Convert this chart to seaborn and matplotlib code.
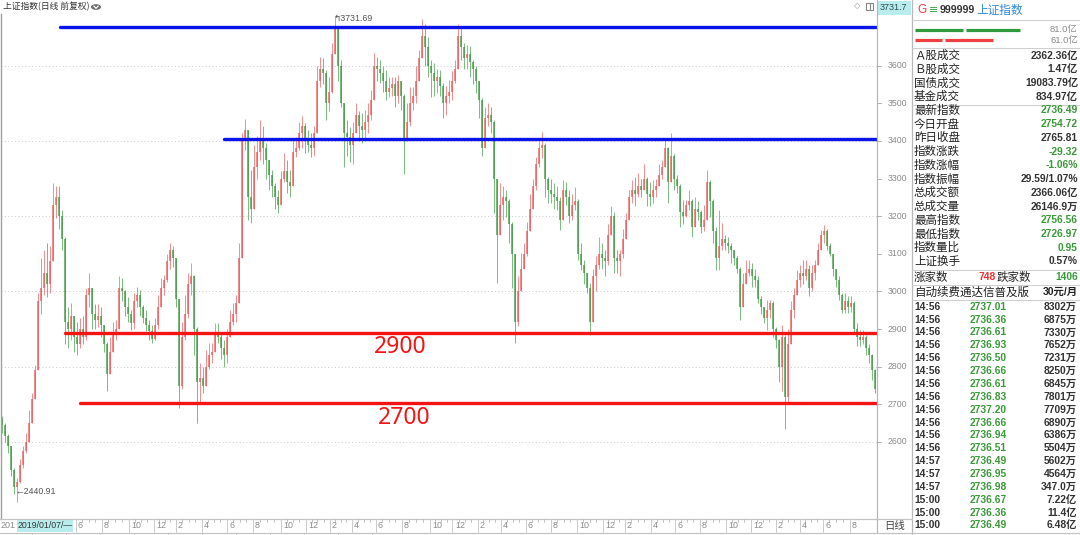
import numpy as np
import pandas as pd
import matplotlib
matplotlib.use("Agg")
import matplotlib.pyplot as plt
import seaborn as sns
from matplotlib.patches import Rectangle, Circle
from matplotlib.lines import Line2D

# ---------------- data (weekly-like candles) ----------------
close = [2645, 2615, 2590, 2525, 2480, 2495, 2540, 2575, 2600, 2650,
         2715, 2790, 2975, 3010, 3050, 3020, 3080, 3230, 3250, 3200,
         3140, 2920, 2900, 2935, 2880, 2860, 2900, 2880, 2990, 3010,
         2940, 2925, 2935, 2910, 2860, 2780, 2840, 2890, 2900, 3010,
         3000, 2960, 2940, 2915, 2975, 2990, 2960, 2930, 2910, 2895,
         2875, 2910, 2960, 3010, 3030, 3080, 3110, 3090, 2980, 2750,
         2880, 2940, 3020, 3040, 2900, 2760, 2770, 2750, 2800, 2830,
         2840, 2890, 2880, 2850, 2830, 2880, 2920, 2940, 2970, 3090,
         3400, 3430, 3250, 3220, 3330, 3370, 3400, 3380, 3350, 3310,
         3280, 3250, 3230, 3300, 3320, 3290, 3280, 3370, 3380, 3420,
         3440, 3400, 3390, 3380, 3420, 3560, 3590, 3580, 3500, 3530,
         3630, 3700, 3600, 3500, 3420, 3410, 3390, 3420, 3470, 3440,
         3430, 3450, 3470, 3510, 3600, 3590, 3580, 3560, 3530, 3540,
         3550, 3520, 3560, 3520, 3400, 3450, 3500, 3520, 3560, 3620,
         3680, 3650, 3600, 3580, 3560, 3570, 3545, 3500, 3520, 3530,
         3560, 3590, 3680, 3650, 3620, 3630, 3610, 3590, 3560, 3510,
         3380, 3460, 3470, 3450, 3300, 3150, 3230, 3250, 3240, 3180,
         3100, 2920, 3000, 3060, 3100, 3160, 3220, 3280, 3340, 3380,
         3390, 3300, 3270, 3260, 3250, 3240, 3190, 3270, 3250, 3200,
         3230, 3240, 3100, 3070, 3050, 3010, 2920, 3040, 3070, 3100,
         3090, 3080, 3150, 3200, 3090, 3080, 3100, 3140, 3190, 3250,
         3270, 3260, 3280, 3270, 3300, 3260, 3250, 3270, 3280, 3310,
         3330, 3380, 3290, 3360, 3300, 3280, 3210, 3200, 3230, 3240,
         3170, 3220, 3210, 3170, 3190, 3290, 3240, 3160, 3090, 3120,
         3140, 3130, 3120, 3110, 3090, 3060, 2960, 3020, 3050, 3060,
         3040, 3030, 2980, 2960, 2930, 2950, 2970, 2900, 2870, 2800,
         2880, 2720, 2860, 2950, 2990, 3030, 3050, 3040, 3060, 3010,
         3050, 3070, 3110, 3150, 3160, 3120, 3100, 3060, 3030, 2990,
         2950, 2975, 2960, 2970, 2900, 2880, 2870, 2880, 2850, 2830,
         2790, 2740]
high = [2668, 2650, 2622, 2575, 2530, 2505, 2555, 2590, 2623, 2685,
        2730, 2805, 2995, 3090, 3110, 3128, 3120, 3287, 3280, 3280,
        3217, 3145, 2960, 2970, 2935, 2920, 2930, 2935, 3010, 3048,
        3010, 2968, 2968, 2960, 2910, 2865, 2880, 2920, 2925, 3040,
        3035, 3004, 2985, 2950, 2995, 3013, 3004, 2965, 2950, 2925,
        2910, 2930, 2990, 3035, 3045, 3100, 3128, 3120, 3090, 2980,
        2920, 2990, 3050, 3075, 3045, 2905, 2810, 2800, 2845, 2862,
        2862, 2916, 2916, 2890, 2871, 2900, 2951, 2970, 2990, 3128,
        3420, 3458, 3430, 3323, 3390, 3412, 3456, 3440, 3394, 3350,
        3323, 3287, 3270, 3320, 3367, 3350, 3323, 3403, 3410, 3450,
        3465, 3447, 3430, 3420, 3440, 3598, 3624, 3620, 3588, 3570,
        3660, 3732, 3700, 3615, 3500, 3456, 3438, 3450, 3500, 3480,
        3474, 3482, 3500, 3535, 3633, 3624, 3615, 3600, 3588, 3570,
        3570, 3570, 3575, 3560, 3525, 3500, 3544, 3544, 3600, 3642,
        3723, 3710, 3677, 3615, 3606, 3590, 3588, 3553, 3545, 3562,
        3585, 3615, 3712, 3700, 3660, 3655, 3651, 3615, 3598, 3560,
        3515, 3490, 3500, 3491, 3455, 3300, 3287, 3280, 3270, 3245,
        3185, 3100, 3040, 3102, 3130, 3185, 3260, 3300, 3358, 3400,
        3424, 3395, 3305, 3300, 3287, 3280, 3252, 3296, 3290, 3270,
        3260, 3278, 3246, 3128, 3084, 3050, 3022, 3060, 3093, 3146,
        3130, 3110, 3180, 3226, 3210, 3110, 3110, 3165, 3208, 3270,
        3296, 3305, 3314, 3300, 3340, 3305, 3290, 3296, 3300, 3340,
        3350, 3402, 3385, 3420, 3365, 3310, 3285, 3243, 3243, 3270,
        3245, 3252, 3240, 3217, 3230, 3323, 3295, 3245, 3172, 3217,
        3181, 3150, 3146, 3128, 3110, 3093, 3065, 3049, 3084, 3084,
        3075, 3060, 3040, 2987, 2960, 2978, 2978, 2975, 2905, 2875,
        2910, 2885, 2900, 2975, 3010, 3058, 3070, 3084, 3084, 3070,
        3070, 3084, 3128, 3164, 3177, 3165, 3128, 3100, 3060, 3040,
        2995, 2995, 2987, 2987, 2975, 2916, 2898, 2898, 2885, 2860,
        2835, 2795]
low = [2625, 2600, 2570, 2510, 2462, 2441, 2490, 2530, 2570, 2615,
       2660, 2740, 2830, 2940, 2990, 2985, 2995, 3150, 3195, 3165,
       3110, 2860, 2850, 2870, 2840, 2830, 2850, 2860, 2870, 2960,
       2900, 2900, 2905, 2880, 2840, 2735, 2790, 2860, 2870, 2920,
       2975, 2935, 2920, 2898, 2900, 2960, 2935, 2915, 2895, 2870,
       2862, 2870, 2900, 2960, 2990, 3025, 3060, 3065, 2960, 2690,
       2740, 2870, 2930, 2990, 2830, 2650, 2700, 2730, 2770, 2795,
       2810, 2840, 2862, 2820, 2800, 2810, 2890, 2910, 2920, 2980,
       3146, 3376, 3190, 3181, 3290, 3300, 3350, 3340, 3300, 3270,
       3252, 3220, 3208, 3230, 3290, 3261, 3252, 3300, 3358, 3376,
       3380, 3367, 3370, 3358, 3360, 3465, 3544, 3550, 3456, 3480,
       3527, 3640, 3560, 3491, 3330, 3360, 3345, 3340, 3440, 3400,
       3394, 3400, 3420, 3456, 3560, 3560, 3553, 3530, 3509, 3518,
       3520, 3491, 3500, 3482, 3312, 3400, 3440, 3482, 3500, 3560,
       3640, 3600, 3570, 3518, 3520, 3527, 3520, 3460, 3470, 3500,
       3510, 3553, 3600, 3615, 3590, 3590, 3570, 3550, 3527, 3460,
       3360, 3429, 3440, 3420, 3208, 3023, 3181, 3190, 3199, 3128,
       3010, 2863, 2907, 3000, 3060, 3093, 3181, 3230, 3270, 3330,
       3355, 3252, 3234, 3234, 3220, 3217, 3164, 3190, 3230, 3181,
       3190, 3217, 3084, 3058, 3020, 2995, 2885, 2940, 3000, 3060,
       3060, 3040, 3070, 3164, 3049, 3049, 3040, 3090, 3146, 3190,
       3234, 3226, 3252, 3250, 3270, 3226, 3226, 3234, 3250, 3287,
       3300, 3350, 3234, 3300, 3270, 3261, 3172, 3180, 3199, 3217,
       3146, 3181, 3190, 3155, 3160, 3252, 3199, 3128, 3058, 3058,
       3110, 3110, 3102, 3075, 3070, 3049, 2925, 2995, 3031, 3040,
       3013, 3013, 2969, 2940, 2916, 2898, 2930, 2880, 2850, 2760,
       2735, 2635, 2700, 2860, 2930, 3004, 3013, 3020, 3030, 2987,
       3000, 3030, 3075, 3120, 3130, 3110, 3093, 3040, 3013, 2978,
       2942, 2942, 2942, 2945, 2889, 2854, 2854, 2860, 2830, 2810,
       2765, 2730]
first_open = 2660

blue_levels = [3704, 3404]
red_levels = [2890, 2704]
red_level_labels = ["2900", "2700"]
price_labels = [3600, 3500, 3400, 3300, 3200, 3100, 3000, 2900, 2800, 2700, 2600]
grid_levels = [3600, 3400, 3200, 3000, 2800, 2600]
high_label = "3731.69"
low_label = "2440.91"
month_labels = ["6", "8", "10", "12", "2", "4", "6", "8", "10", "12", "2", "4",
                "6", "8", "10", "12", "2", "4", "6", "8", "10", "12", "2", "4",
                "6", "8", "10", "12", "2", "4", "6", "8"]

panel_top = [("Ａ股成交", "2362.36亿"), ("Ｂ股成交", "1.47亿"),
             ("国债成交", "19083.79亿"), ("基金成交", "834.97亿")]
panel_mid = [("最新指数", "2736.49", "g"), ("今日开盘", "2754.72", "g"),
             ("昨日收盘", "2765.81", "k"), ("指数涨跌", "-29.32", "g"),
             ("指数涨幅", "-1.06%", "g"), ("指数振幅", "29.59/1.07%", "k"),
             ("总成交额", "2366.06亿", "k"), ("总成交量", "26146.9万", "k"),
             ("最高指数", "2756.56", "g"), ("最低指数", "2726.97", "g"),
             ("指数量比", "0.95", "g"), ("上证换手", "0.57%", "k")]
tick_time = ["14:56"] * 12 + ["14:57"] * 3 + ["15:00"] * 3
tick_price = ["2737.01", "2736.36", "2736.61", "2736.93", "2736.50", "2736.66",
              "2736.61", "2736.83", "2737.20", "2736.66", "2736.94", "2736.51",
              "2736.49", "2736.95", "2736.98", "2736.67", "2736.36", "2736.49"]
tick_vol = ["8302万", "6875万", "7330万", "7652万", "7231万", "8250万",
            "6845万", "7801万", "7709万", "6890万", "6386万", "5504万",
            "5602万", "4564万", "347.0万", "7.22亿", "11.4亿", "6.48亿"]

# ---------------- style ----------------
sns.set_theme(style="white")
CJK = ["Noto Sans CJK SC", "DejaVu Sans"]
NUM = ["Liberation Sans", "Noto Sans CJK SC", "DejaVu Sans"]
plt.rcParams["font.family"] = CJK

W, H = 1080, 535
fig = plt.figure(figsize=(W / 100, H / 100), dpi=100)
fig.patch.set_facecolor("white")


def fx(x):
    return x / W


def fy(y):
    return 1 - y / H


def fline(xs, ys, color="#c8c8c8", lw=0.75, **kw):
    fig.add_artist(Line2D([fx(v) for v in xs], [fy(v) for v in ys],
                          transform=fig.transFigure, color=color, lw=lw, **kw))


def T(x, y, s, size=8, color="#222222", ha="left", va="center",
      weight="normal", family=None):
    fig.text(fx(x), fy(y), s, fontsize=size, color=color, ha=ha, va=va,
             fontweight=weight, family=family or CJK)


# ---------------- main candle chart ----------------
ax = fig.add_axes([fx(1), fy(519), fx(877) - fx(1), fy(14) - fy(519)])
ax.set_facecolor("white")
n = len(close)
df = pd.DataFrame({"close": close, "high": high, "low": low})
df["open"] = [first_open] + close[:-1]
df["idx"] = np.arange(n)
df["hi"] = df[["high", "open", "close"]].max(axis=1)
df["lo"] = df[["low", "open", "close"]].min(axis=1)
up = df["close"] >= df["open"]
RED, GREEN = "#f05656", "#3a9a3e"
cols = np.where(up, RED, GREEN)
ax.vlines(df["idx"], df["lo"], df["hi"], colors=cols, lw=0.55, alpha=0.85)
b0 = np.minimum(df["open"], df["close"])
b1 = np.maximum(df["open"], df["close"])
b1 = np.maximum(b1, b0 + 4)
ax.vlines(df["idx"], b0, b1, colors=cols, lw=1.25, alpha=0.8)

for g in grid_levels:
    ax.axhline(g, color="#c9c9c9", lw=0.7, ls=(0, (1, 2.5)), zorder=0)


def px2i(px):
    return (px - 1.5) / 3.0


xmax = px2i(877)
for lv, start in zip(blue_levels, [60, 224]):
    sns.lineplot(x=[px2i(start), xmax], y=[lv, lv], ax=ax, color="#0a14e6",
                 lw=2.4, legend=False)
for lv, start in zip(red_levels, [65, 80]):
    sns.lineplot(x=[px2i(start), xmax], y=[lv, lv], ax=ax, color="#f41414",
                 lw=2.4, legend=False)
for lab, xc, yc in zip(red_level_labels, [400, 404], [347, 418]):
    T(xc, yc, lab, size=16.5, color="#f41414", ha="center",
      family=["Noto Sans", "DejaVu Sans"])

ax.set_xlim(px2i(1), xmax)
ax.set_ylim(2395.4, 3737.3)
ax.set_xticks([])
ax.set_yticks([])
for s in ["top", "bottom", "right"]:
    ax.spines[s].set_visible(False)
ax.spines["left"].set_color("#a0a0a0")
ax.spines["left"].set_linewidth(1.0)

T(334, 18, "↰" + high_label, size=6.3, color="#555555", family=NUM)
T(15, 492, "←" + low_label, size=6.3, color="#555555", family=NUM)

# title
T(3, 7, "上证指数(日线 前复权)", size=6.3, color="#333333")
fig.add_artist(Circle((fx(96), fy(7)), 4.3 / W, transform=fig.transFigure,
                      color="#6f6f6f"))
fline([93.8, 96, 98.2], [6, 8.3, 6], color="white", lw=0.9)
T(857, 6, "◇", size=6, color="#888888", ha="center", family=["DejaVu Sans"])
fig.add_artist(Rectangle((fx(866), fy(10)), 7 / W, 7 / H, transform=fig.transFigure,
                         fc="white", ec="#888888", lw=0.8))
fline([870, 870], [4, 10], color="#888888", lw=0.8)

# ---------------- price axis column ----------------
fline([877, 877], [0, 532], color="#b8b8b8", lw=0.9)
fline([912, 912], [0, 535], color="#b8b8b8", lw=0.9)
for p in price_labels:
    yy = 14 + (3737.3 - p) * 0.376328
    fline([877, 881], [yy, yy], color="#b0b0b0", lw=0.7)
    T(907, yy, str(p), size=6.3, color="#8a8a8a", ha="right", family=NUM)
fig.add_artist(Rectangle((fx(877.5), fy(15)), 33 / W, 14 / H, transform=fig.transFigure,
                         fc="#b9eded", ec="none"))
T(893.5, 8, "3731.7", size=6.5, color="#2c4a55", ha="center", family=NUM)

# ---------------- date strip ----------------
fline([0, 912], [519, 519], color="#c4c4c4", lw=0.9)
fline([0, 1080], [532.5, 532.5], color="#c4c4c4", lw=0.9)
month_px = [78, 104, 131, 156, 178, 204, 229, 255, 283, 308, 332, 354, 378, 404,
            432, 455, 480, 503, 528, 553, 579, 605, 627, 653, 677, 702, 728, 753,
            778, 802, 825, 852]
for lab, mx in zip(month_labels, month_px):
    fline([mx - 2.5, mx - 2.5], [519, 532], color="#cccccc", lw=0.7)
    T(mx, 526, lab, size=6.4, color="#8a8a8a", family=NUM)
for a, b in zip(month_px[:-1], month_px[1:]):
    for f in (0.25, 0.5, 0.75):
        xm = a - 2.5 + (b - a) * f
        fline([xm, xm], [519, 521.5], color="#b8b8b8", lw=0.6)
T(1, 526, "201", size=6.4, color="#8a8a8a", family=NUM)
fig.add_artist(Rectangle((fx(16.5), fy(532)), 56 / W, 12.5 / H, transform=fig.transFigure,
                         fc="#b9eded", ec="none"))
T(18, 526, "2019/01/07/—", size=6.3, color="#333333", family=NUM)
T(894.5, 526.5, "日线", size=7.5, color="#444444", ha="center")
for bx in [0, 34, 68, 102, 136, 170, 204, 238, 272, 306, 340]:
    fline([bx + 32, bx + 32], [532.5, 535], color="#c4c4c4", lw=0.7)

# ---------------- right info panel ----------------
T(917, 10, "G", size=8.5, color="#f04040", family=NUM)
T(929, 10, "≡", size=8, color="#3aa04a", family=["DejaVu Sans"])
T(940, 10, "999999", size=7.6, color="#333333", weight="bold", family=NUM)
T(976, 10, "上证指数", size=8.4, color="#2f86d6")
fline([912, 1080], [19.5, 19.5], color="#cfcfcf")

for x0, x1 in [(915, 963), (966, 1020)]:
    fline([x0, x1], [29.5, 29.5], color="#2f9a3e", lw=2.3, solid_capstyle="butt")
for x0, x1 in [(915, 942), (945, 993)]:
    fline([x0, x1], [40, 40], color="#ee4040", lw=2.3, solid_capstyle="butt")
T(1078, 29.5, "81.0亿", size=6.8, color="#8c8c8c", ha="right", family=NUM)
T(1078, 40, "61.0亿", size=6.8, color="#8c8c8c", ha="right", family=NUM)
fline([912, 1080], [48, 48], color="#cfcfcf")

GREEN_T, DARK_T = "#3a9a3a", "#333333"
row_y0, row_dy = 55.5, 13.73
for i, (lab, val) in enumerate(panel_top):
    yy = row_y0 + i * row_dy
    T(914, yy, lab, size=8.3, color="#222222")
    T(1078, yy, val, size=7.4, color=DARK_T, ha="right", weight="bold", family=NUM)
fline([912, 1080], [105, 105], color="#cfcfcf")
for j, (lab, val, c) in enumerate(panel_mid):
    yy = row_y0 + (j + 4) * row_dy
    T(914, yy, lab, size=8.3, color="#222222")
    T(1078, yy, val, size=7.4, color=GREEN_T if c == "g" else DARK_T,
      ha="right", weight="bold", family=NUM)
fline([912, 1080], [269.5, 269.5], color="#cfcfcf")
T(914, 277, "涨家数", size=8.3, color="#222222")
T(996, 277, "748", size=7.4, color="#ee3030", ha="right", weight="bold", family=NUM)
T(997, 277, "跌家数", size=8.3, color="#222222")
T(1078, 277, "1406", size=7.4, color=GREEN_T, ha="right", weight="bold", family=NUM)
fline([912, 1080], [284.5, 284.5], color="#cfcfcf")
T(914, 292, "自动续费通达信普及版", size=8.3, color="#222222")
T(1078, 292, "30元/月", size=7.5, color="#222222", ha="right", weight="bold", family=NUM)
fline([912, 1080], [299.5, 299.5], color="#cfcfcf")

for k, (tt, pp, vv) in enumerate(zip(tick_time, tick_price, tick_vol)):
    yy = 306.7 + k * 12.87
    T(914, yy, tt, size=7.4, color=DARK_T, weight="bold", family=NUM)
    T(1007, yy, pp, size=7.4, color=GREEN_T, ha="right", weight="bold", family=NUM)
    T(1077, yy, vv, size=7.4, color=DARK_T, ha="right", weight="bold", family=NUM)

fig.savefig("out.png", dpi=100, facecolor="white")
